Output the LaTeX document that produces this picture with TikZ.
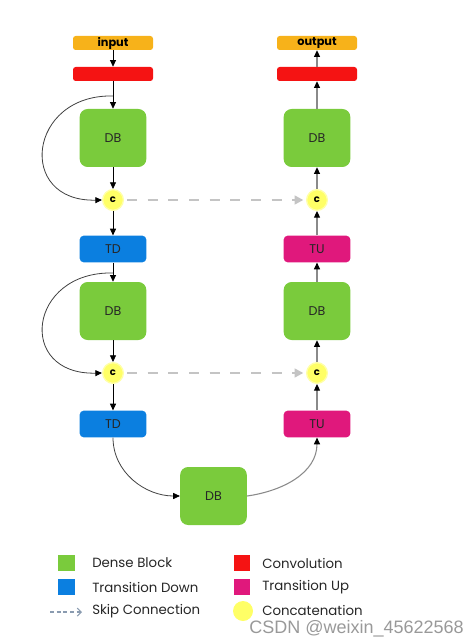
\documentclass[tikz,border=0pt]{standalone}
\usepackage{fontspec}
\setmainfont{Poppins}
\newfontfamily\wmfont{Liberation Sans}
\usetikzlibrary{arrows.meta}
\definecolor{cinput}{HTML}{F7B21A}
\definecolor{cconv}{HTML}{F51313}
\definecolor{cdb}{HTML}{7ACB3C}
\definecolor{ctd}{HTML}{0B7FE0}
\definecolor{ctu}{HTML}{E0187C}
\definecolor{ccat}{HTML}{FFFF66}
\definecolor{ccatring}{HTML}{FFFFA8}
\definecolor{cskip}{HTML}{C4C4C4}
\definecolor{clegskip}{HTML}{8A9BB0}
\definecolor{cline}{HTML}{8A8A8A}
\tikzset{
  iobox/.style={fill=cinput, rounded corners=2pt, minimum width=60pt, minimum height=10.5pt, inner sep=0pt, font=\bfseries\fontsize{8.5}{9}\selectfont},
  convbox/.style={fill=cconv, rounded corners=2pt, minimum width=60pt, minimum height=10.5pt, inner sep=0pt},
  dbbox/.style={fill=cdb, rounded corners=6pt, minimum width=50pt, minimum height=43.5pt, inner sep=0pt, text=black!85, font=\fontsize{9.5}{10}\selectfont},
  tdbox/.style={fill=ctd, rounded corners=3pt, minimum width=50pt, minimum height=20pt, inner sep=0pt, text=black!85, font=\fontsize{9.5}{10}\selectfont},
  tubox/.style={fill=ctu, rounded corners=3pt, minimum width=50pt, minimum height=20pt, inner sep=0pt, text=black!85, font=\fontsize{9.5}{10}\selectfont},
  catnode/.style={circle, fill=ccat, draw=ccatring, line width=1pt, minimum size=15.5pt, inner sep=0pt, font=\bfseries\fontsize{7.5}{8}\selectfont},
  blkarrow/.style={draw=black, line width=0.6pt, -{Triangle[length=5pt,width=4.5pt]}},
  greyarrow/.style={draw=cline, line width=0.8pt, -{Triangle[length=5pt,width=4.5pt,color=black]}},
  curvearrow/.style={draw=black!75, line width=0.6pt, -{Triangle[length=5pt,width=4.5pt,color=black]}},
  curvegrey/.style={draw=cline, line width=0.8pt, -{Triangle[length=5pt,width=4.5pt,color=black]}},
  skiparrow/.style={draw=cskip, line width=2pt, dash pattern=on 7.5pt off 8pt, -{Triangle[length=6.5pt,width=6.5pt,color=cskip]}},
  legsq/.style={minimum size=12.5pt, inner sep=0pt},
  legtxt/.style={anchor=west, inner sep=0pt, text=black!85, font=\fontsize{10}{11}\selectfont},
}
\begin{document}
\begin{tikzpicture}[x=0.75pt, y=-0.75pt]
\useasboundingbox (0,0) rectangle (474,641);
% left column
\node[iobox] (in) at (113,43) {input};
\node[convbox] (conv1) at (113,74) {};
\node[dbbox] (db1) at (113,138) {DB};
\node[catnode] (c1) at (113,200) {c};
\node[tdbox] (td1) at (113,249) {TD};
\node[dbbox] (db2) at (113,311) {DB};
\node[catnode] (c2) at (113,373) {c};
\node[tdbox] (td2) at (113,424) {TD};
% bottom
\node[dbbox] (db3) at (213.5,496) {DB};
% right column
\node[iobox] (out) at (317,43) {output};
\node[convbox] (conv2) at (317,74) {};
\node[dbbox] (db4) at (317,138) {DB};
\node[catnode] (c3) at (317,200) {c};
\node[tubox] (tu1) at (317,249) {TU};
\node[dbbox] (db5) at (317,311) {DB};
\node[catnode] (c4) at (317,373) {c};
\node[tubox] (tu2) at (317,424) {TU};
% left arrows
\draw[blkarrow] (in) -- (conv1);
\draw[blkarrow] (conv1) -- (db1);
\draw[blkarrow] (db1) -- (c1);
\draw[blkarrow] (c1) -- (td1);
\draw[blkarrow] (td1) -- (db2);
\draw[blkarrow] (db2) -- (c2);
\draw[blkarrow] (c2) -- (td2);
% skip curves
\coordinate (s1) at (113,96);
\coordinate (s2) at (113,273);
\draw[curvearrow] (s1) .. controls (28,94) and (16,202) .. (c1.west);
\draw[curvearrow] (s2) .. controls (28,271) and (16,375) .. (c2.west);
% bottom curves
\draw[curvearrow] (td2.south) to[out=-90,in=180] (db3.west);
\draw[curvegrey] (db3.east) to[out=8,in=-90] (tu2.south);
% right arrows
\draw[greyarrow] (tu2) -- (c4);
\draw[greyarrow] (c4) -- (db5);
\draw[greyarrow] (db5) -- (tu1);
\draw[greyarrow] (tu1) -- (c3);
\draw[greyarrow] (c3) -- (db4);
\draw[greyarrow] (db4) -- (conv2);
\draw[greyarrow] (conv2) -- (out);
% skip connections
\draw[skiparrow] (c1.east) ++(3,0) coordinate (k1) (k1) -- ([xshift=-2pt]c3.west);
\draw[skiparrow] (c2.east) ++(3,0) coordinate (k2) (k2) -- ([xshift=-2pt]c4.west);
% legend
\node[legsq, fill=cdb] (l1) at (66.5,563) {};
\node[legtxt] (t1) at (92,563) {Dense Block};
\node[legsq, fill=ctd] (l2) at (66.5,587) {};
\node[legtxt] (t2) at (92,587) {Transition Down};
\coordinate (la) at (50,612);
\coordinate (lb) at (82,612);
\draw[draw=clegskip, line width=0.8pt, dash pattern=on 3pt off 2pt, -{Straight Barb[length=3pt,width=6pt]}] (la) -- (lb);
\node[legtxt] (t3) at (92,611) {Skip Connection};
\node[legsq, fill=cconv] (l4) at (242,563) {};
\node[legtxt] (t4) at (262,563) {Convolution};
\node[legsq, fill=ctu] (l5) at (242,587) {};
\node[legtxt] (t5) at (262,587) {Transition Up};
\node[circle, fill=ccat, minimum size=15pt, inner sep=0pt] (l6) at (243,611) {};
\node[legtxt] (t6) at (262,610) {Concatenation};
% watermark
\node[anchor=west, inner sep=0pt, text=black!40, font=\wmfont\fontsize{13.5}{14}\selectfont] (wm) at (249,629) {CSDN @weixin\_45622568};
\end{tikzpicture}
\end{document}
